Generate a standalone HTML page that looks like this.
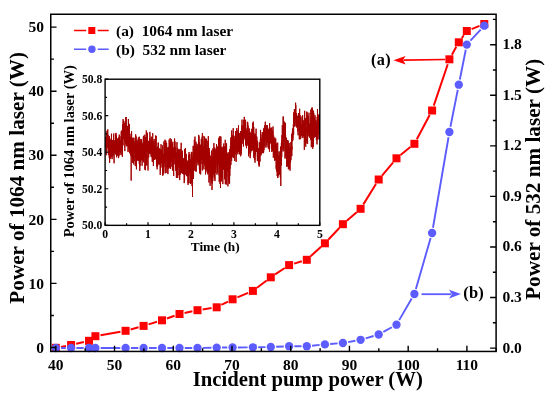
<!DOCTYPE html>
<html><head><meta charset="utf-8"><style>
html,body{margin:0;padding:0;background:#fff;width:550px;height:397px;overflow:hidden}
svg{display:block}
</style></head><body>
<svg width="550" height="397" viewBox="0 0 550 397">
<rect x="0" y="0" width="550" height="397" fill="#fff"/>
<polyline points="105.60,144.5 105.68,146.9 105.76,142.3 105.85,137.4 105.93,140.9 106.01,136.6 106.09,145.1 106.18,155.3 106.26,140.8 106.34,139.9 106.42,148.8 106.50,147.8 106.59,145.9 106.67,137.8 106.75,145.0 106.83,150.8 106.92,134.9 107.00,141.9 107.08,130.7 107.16,135.6 107.24,131.4 107.33,144.0 107.41,136.0 107.49,148.0 107.57,147.2 107.66,144.7 107.74,129.4 107.82,142.1 107.90,146.0 107.98,147.3 108.07,134.8 108.15,142.9 108.23,139.2 108.31,140.6 108.40,154.9 108.48,140.8 108.56,146.7 108.64,153.7 108.72,142.7 108.81,146.4 108.89,148.1 108.97,147.8 109.05,138.3 109.14,148.1 109.22,157.7 109.30,136.1 109.38,154.1 109.46,148.7 109.55,143.2 109.63,162.8 109.71,153.7 109.79,139.3 109.88,148.8 109.96,152.5 110.04,147.0 110.12,153.3 110.20,147.8 110.29,153.2 110.37,158.8 110.45,143.4 110.53,149.8 110.62,144.9 110.70,149.2 110.78,139.6 110.86,144.0 110.94,146.8 111.03,154.8 111.11,156.5 111.19,138.6 111.27,142.4 111.36,152.9 111.44,133.7 111.52,144.8 111.60,147.5 111.68,157.2 111.77,153.1 111.85,145.8 111.93,145.5 112.01,146.3 112.10,159.1 112.18,145.0 112.26,145.9 112.34,150.6 112.42,147.2 112.51,146.6 112.59,140.0 112.67,147.9 112.75,144.8 112.84,156.4 112.92,152.7 113.00,147.8 113.08,152.8 113.16,145.5 113.25,155.5 113.33,147.9 113.41,152.1 113.49,138.8 113.58,150.4 113.66,135.9 113.74,133.5 113.82,145.7 113.90,141.5 113.99,149.0 114.07,163.3 114.15,142.0 114.23,143.4 114.32,149.3 114.40,151.3 114.48,146.6 114.56,146.4 114.64,152.7 114.73,151.4 114.81,140.5 114.89,147.2 114.97,148.0 115.06,140.4 115.14,149.5 115.22,141.7 115.30,154.5 115.38,149.0 115.47,148.3 115.55,143.5 115.63,146.8 115.71,133.8 115.80,139.8 115.88,150.1 115.96,132.9 116.04,153.4 116.12,135.5 116.21,152.7 116.29,141.7 116.37,152.8 116.45,148.4 116.54,136.9 116.62,156.0 116.70,157.3 116.78,147.0 116.86,145.5 116.95,146.3 117.03,140.7 117.11,154.8 117.19,143.7 117.28,147.0 117.36,141.9 117.44,143.1 117.52,138.6 117.60,155.7 117.69,146.2 117.77,153.7 117.85,147.3 117.93,142.5 118.02,145.0 118.10,143.4 118.18,147.2 118.26,144.6 118.34,145.1 118.43,137.9 118.51,141.7 118.59,158.1 118.67,142.6 118.76,140.1 118.84,149.3 118.92,156.3 119.00,137.4 119.08,145.5 119.17,142.4 119.25,134.6 119.33,151.4 119.41,146.1 119.50,146.6 119.58,140.6 119.66,149.0 119.74,141.7 119.82,144.4 119.91,137.2 119.99,136.2 120.07,155.0 120.15,141.1 120.24,147.0 120.32,144.3 120.40,141.0 120.48,140.3 120.56,149.1 120.65,141.6 120.73,142.6 120.81,143.9 120.89,153.1 120.98,149.0 121.06,146.4 121.14,138.4 121.22,131.3 121.30,150.8 121.39,150.9 121.47,141.3 121.55,147.0 121.63,149.0 121.72,149.4 121.80,150.1 121.88,137.6 121.96,155.3 122.04,130.0 122.13,148.8 122.21,145.2 122.29,148.2 122.37,156.9 122.46,153.0 122.54,129.3 122.62,124.3 122.70,146.0 122.78,129.7 122.87,138.1 122.95,145.2 123.03,123.4 123.11,119.1 123.20,139.2 123.28,137.1 123.36,134.3 123.44,136.4 123.52,128.5 123.61,122.7 123.69,133.8 123.77,126.7 123.85,120.9 123.94,138.4 124.02,133.5 124.10,137.4 124.18,125.9 124.26,128.7 124.35,125.9 124.43,126.9 124.51,135.9 124.59,127.8 124.68,137.3 124.76,137.2 124.84,151.1 124.92,123.0 125.00,141.8 125.09,133.8 125.17,134.5 125.25,122.7 125.33,130.9 125.42,140.8 125.50,134.1 125.58,135.5 125.66,132.4 125.74,144.4 125.83,134.7 125.91,117.0 125.99,129.3 126.07,118.8 126.16,117.1 126.24,130.9 126.32,146.4 126.40,135.8 126.48,125.8 126.57,127.8 126.65,145.1 126.73,137.1 126.81,136.3 126.90,135.6 126.98,136.4 127.06,142.9 127.14,140.9 127.22,138.2 127.31,127.7 127.39,140.9 127.47,130.9 127.55,146.0 127.64,126.1 127.72,135.8 127.80,136.9 127.88,125.9 127.96,151.8 128.05,149.7 128.13,133.4 128.21,144.0 128.29,140.8 128.38,119.0 128.46,139.9 128.54,137.3 128.62,138.6 128.70,128.8 128.79,135.8 128.87,136.7 128.95,148.5 129.03,141.3 129.12,138.6 129.20,151.9 129.28,134.2 129.36,135.9 129.44,123.9 129.53,152.9 129.61,148.0 129.69,147.7 129.77,145.8 129.86,141.2 129.94,142.3 130.02,138.6 130.10,139.2 130.18,141.5 130.27,154.0 130.35,146.1 130.43,141.1 130.51,137.0 130.60,136.7 130.68,155.6 130.76,146.6 130.84,143.1 130.92,139.9 131.01,133.7 131.09,142.6 131.17,180.6 131.25,140.3 131.34,141.8 131.42,142.1 131.50,145.0 131.58,131.2 131.66,142.5 131.75,137.7 131.83,152.0 131.91,138.7 131.99,149.9 132.08,157.8 132.16,143.0 132.24,140.9 132.32,147.5 132.41,146.1 132.49,138.3 132.57,150.2 132.65,162.9 132.73,144.8 132.82,145.5 132.90,138.9 132.98,150.0 133.06,137.6 133.15,138.8 133.23,158.1 133.31,140.6 133.39,156.7 133.47,160.5 133.56,150.4 133.64,152.9 133.72,164.4 133.80,147.0 133.89,143.9 133.97,137.8 134.05,149.3 134.13,161.2 134.21,157.1 134.30,141.5 134.38,142.3 134.46,145.3 134.54,152.0 134.63,148.0 134.71,151.6 134.79,152.4 134.87,147.6 134.95,149.9 135.04,152.0 135.12,149.6 135.20,154.6 135.28,166.1 135.37,155.4 135.45,151.0 135.53,136.4 135.61,153.8 135.69,134.3 135.78,138.9 135.86,157.9 135.94,156.7 136.02,149.5 136.11,136.5 136.19,147.8 136.27,145.2 136.35,156.3 136.43,169.3 136.52,152.9 136.60,144.6 136.68,141.4 136.76,150.7 136.85,149.8 136.93,141.6 137.01,152.3 137.09,141.7 137.17,160.7 137.26,160.3 137.34,160.5 137.42,147.6 137.50,155.9 137.59,150.5 137.67,148.4 137.75,148.9 137.83,140.9 137.91,139.8 138.00,158.5 138.08,150.3 138.16,153.7 138.24,160.3 138.33,137.6 138.41,145.5 138.49,153.6 138.57,155.4 138.65,149.0 138.74,160.8 138.82,154.0 138.90,142.2 138.98,144.6 139.07,159.1 139.15,156.3 139.23,136.7 139.31,163.7 139.39,157.6 139.48,163.8 139.56,149.5 139.64,150.3 139.72,143.4 139.81,170.9 139.89,151.4 139.97,166.1 140.05,147.5 140.13,154.2 140.22,138.9 140.30,149.6 140.38,161.1 140.46,142.3 140.55,161.8 140.63,155.6 140.71,143.9 140.79,148.5 140.87,148.8 140.96,152.3 141.04,148.1 141.12,145.6 141.20,150.1 141.29,143.8 141.37,141.5 141.45,152.2 141.53,160.3 141.61,139.3 141.70,152.6 141.78,146.9 141.86,144.0 141.94,160.0 142.03,148.0 142.11,165.7 142.19,145.6 142.27,155.9 142.35,150.5 142.44,145.8 142.52,157.7 142.60,151.1 142.68,157.8 142.77,152.0 142.85,142.7 142.93,151.5 143.01,152.8 143.09,161.0 143.18,144.1 143.26,152.0 143.34,136.7 143.42,158.2 143.51,142.4 143.59,135.8 143.67,151.7 143.75,162.4 143.83,138.2 143.92,142.2 144.00,145.3 144.08,141.7 144.16,155.7 144.25,144.7 144.33,145.4 144.41,157.6 144.49,145.0 144.57,156.2 144.66,143.0 144.74,140.7 144.82,134.7 144.90,169.6 144.99,149.0 145.07,154.3 145.15,151.7 145.23,153.5 145.31,152.4 145.40,170.2 145.48,142.0 145.56,137.0 145.64,142.2 145.73,139.0 145.81,159.1 145.89,159.8 145.97,142.5 146.05,138.3 146.14,148.4 146.22,165.4 146.30,130.5 146.38,156.9 146.47,141.2 146.55,162.0 146.63,141.1 146.71,148.9 146.79,136.8 146.88,142.0 146.96,165.4 147.04,159.8 147.12,147.6 147.21,142.9 147.29,132.7 147.37,147.7 147.45,151.3 147.53,150.7 147.62,150.6 147.70,140.2 147.78,150.9 147.86,151.1 147.95,164.6 148.03,170.5 148.11,150.1 148.19,143.8 148.27,150.9 148.36,145.4 148.44,144.1 148.52,150.9 148.60,141.1 148.69,157.5 148.77,150.5 148.85,154.0 148.93,149.7 149.01,144.4 149.10,142.3 149.18,149.2 149.26,146.2 149.34,153.8 149.43,151.5 149.51,138.4 149.59,152.2 149.67,138.7 149.75,145.7 149.84,148.7 149.92,131.9 150.00,152.4 150.08,153.0 150.17,150.1 150.25,147.6 150.33,148.1 150.41,142.5 150.49,149.1 150.58,146.5 150.66,152.4 150.74,140.5 150.82,153.7 150.91,152.9 150.99,150.3 151.07,147.6 151.15,156.6 151.23,136.6 151.32,155.7 151.40,153.7 151.48,154.1 151.56,155.0 151.65,145.8 151.73,149.3 151.81,157.2 151.89,155.4 151.97,153.4 152.06,138.4 152.14,156.2 152.22,161.7 152.30,160.3 152.39,153.6 152.47,138.3 152.55,159.6 152.63,150.4 152.71,133.2 152.80,154.8 152.88,139.1 152.96,140.8 153.04,146.3 153.13,162.2 153.21,148.5 153.29,153.8 153.37,166.0 153.45,164.7 153.54,150.8 153.62,149.7 153.70,141.4 153.78,146.0 153.87,155.0 153.95,154.8 154.03,152.5 154.11,159.5 154.19,145.5 154.28,151.2 154.36,157.4 154.44,156.2 154.52,160.0 154.61,154.7 154.69,149.3 154.77,154.4 154.85,144.0 154.93,139.1 155.02,156.1 155.10,151.3 155.18,154.2 155.26,138.9 155.35,149.2 155.43,147.5 155.51,145.5 155.59,135.5 155.67,149.7 155.76,159.3 155.84,155.4 155.92,147.9 156.00,152.5 156.09,158.6 156.17,135.9 156.25,151.9 156.33,157.2 156.41,158.4 156.50,166.5 156.58,162.1 156.66,155.8 156.74,155.8 156.83,159.7 156.91,149.3 156.99,153.3 157.07,160.9 157.15,169.3 157.24,152.6 157.32,153.6 157.40,155.7 157.48,164.8 157.57,154.0 157.65,166.1 157.73,146.7 157.81,153.0 157.89,153.0 157.98,161.0 158.06,163.1 158.14,142.7 158.22,147.5 158.31,157.7 158.39,149.7 158.47,142.8 158.55,163.7 158.63,159.3 158.72,159.4 158.80,151.6 158.88,164.0 158.96,153.7 159.05,164.7 159.13,148.4 159.21,148.9 159.29,157.7 159.37,150.3 159.46,161.7 159.54,158.4 159.62,148.7 159.70,157.0 159.79,153.6 159.87,164.2 159.95,151.4 160.03,153.1 160.11,166.8 160.20,174.9 160.28,173.5 160.36,157.5 160.44,158.9 160.53,169.8 160.61,156.2 160.69,149.3 160.77,158.4 160.85,161.2 160.94,150.8 161.02,144.2 161.10,146.0 161.18,163.2 161.27,151.7 161.35,156.8 161.43,159.7 161.51,163.0 161.59,155.4 161.68,162.2 161.76,151.1 161.84,155.5 161.92,150.2 162.01,167.5 162.09,158.2 162.17,152.5 162.25,155.6 162.33,156.6 162.42,163.9 162.50,145.5 162.58,150.0 162.66,155.2 162.75,175.7 162.83,165.8 162.91,157.3 162.99,163.8 163.07,174.6 163.16,156.2 163.24,155.1 163.32,167.7 163.40,161.9 163.49,163.3 163.57,153.8 163.65,173.3 163.73,171.6 163.81,162.4 163.90,163.3 163.98,141.4 164.06,162.8 164.14,156.1 164.23,161.1 164.31,163.1 164.39,154.8 164.47,143.9 164.55,160.5 164.64,151.5 164.72,154.8 164.80,152.5 164.88,154.6 164.97,139.7 165.05,167.2 165.13,159.3 165.21,166.3 165.29,173.3 165.38,157.4 165.46,142.5 165.54,149.9 165.62,147.3 165.71,153.0 165.79,157.7 165.87,140.7 165.95,159.8 166.03,144.6 166.12,159.3 166.20,156.0 166.28,154.3 166.36,156.2 166.45,152.4 166.53,151.7 166.61,143.0 166.69,156.4 166.77,171.7 166.86,172.8 166.94,167.4 167.02,162.3 167.10,151.0 167.19,168.3 167.27,156.0 167.35,155.9 167.43,154.0 167.51,157.1 167.60,152.8 167.68,155.6 167.76,147.4 167.84,153.2 167.93,174.1 168.01,155.6 168.09,154.2 168.17,160.5 168.25,161.9 168.34,146.9 168.42,154.3 168.50,163.6 168.58,158.2 168.67,156.9 168.75,168.7 168.83,150.3 168.91,156.5 168.99,151.5 169.08,168.1 169.16,139.6 169.24,150.1 169.32,151.3 169.41,161.1 169.49,160.6 169.57,167.1 169.65,142.5 169.73,161.7 169.82,153.0 169.90,149.9 169.98,159.9 170.06,147.8 170.15,138.2 170.23,152.4 170.31,143.0 170.39,150.1 170.47,158.7 170.56,158.2 170.64,169.0 170.72,154.0 170.80,142.8 170.89,149.4 170.97,148.0 171.05,145.5 171.13,159.5 171.21,150.4 171.30,139.2 171.38,161.9 171.46,155.0 171.54,159.1 171.63,157.0 171.71,161.5 171.79,156.4 171.87,166.7 171.95,159.8 172.04,159.6 172.12,159.8 172.20,143.8 172.28,154.9 172.37,154.1 172.45,158.2 172.53,144.7 172.61,170.6 172.69,157.4 172.78,146.0 172.86,141.7 172.94,154.1 173.02,155.8 173.11,150.4 173.19,157.5 173.27,151.1 173.35,161.6 173.43,150.4 173.52,156.5 173.60,165.4 173.68,176.0 173.76,148.0 173.85,152.8 173.93,149.6 174.01,163.9 174.09,146.9 174.17,152.8 174.26,156.8 174.34,148.5 174.42,148.7 174.50,153.0 174.59,138.5 174.67,144.4 174.75,153.6 174.83,158.7 174.91,155.7 175.00,141.5 175.08,153.3 175.16,164.6 175.24,162.5 175.33,156.8 175.41,149.6 175.49,163.3 175.57,152.4 175.65,147.1 175.74,150.4 175.82,170.9 175.90,159.8 175.98,168.3 176.07,153.5 176.15,166.4 176.23,152.4 176.31,156.5 176.39,177.9 176.48,165.0 176.56,153.4 176.64,157.3 176.72,161.1 176.81,169.3 176.89,153.7 176.97,142.1 177.05,155.6 177.13,158.4 177.22,159.3 177.30,170.5 177.38,161.3 177.46,165.9 177.55,148.2 177.63,166.5 177.71,178.0 177.79,165.7 177.87,160.9 177.96,160.0 178.04,175.3 178.12,150.1 178.20,157.8 178.29,163.2 178.37,165.9 178.45,155.0 178.53,162.0 178.61,156.6 178.70,160.4 178.78,158.1 178.86,148.9 178.94,159.3 179.03,167.7 179.11,150.8 179.19,157.6 179.27,165.9 179.35,150.1 179.44,161.7 179.52,150.4 179.60,170.5 179.68,180.1 179.77,178.7 179.85,158.4 179.93,167.2 180.01,161.7 180.09,161.6 180.18,174.7 180.26,148.9 180.34,170.4 180.42,160.5 180.51,173.7 180.59,162.8 180.67,155.2 180.75,163.8 180.83,168.0 180.92,161.8 181.00,165.9 181.08,157.0 181.16,142.8 181.25,169.8 181.33,168.1 181.41,163.3 181.49,162.6 181.57,171.3 181.66,158.2 181.74,156.1 181.82,160.7 181.90,172.9 181.99,150.4 182.07,173.0 182.15,157.1 182.23,153.2 182.31,173.8 182.40,162.1 182.48,151.7 182.56,160.0 182.64,171.2 182.73,173.6 182.81,159.7 182.89,166.9 182.97,169.6 183.05,158.0 183.14,166.7 183.22,163.5 183.30,159.2 183.38,159.7 183.47,164.6 183.55,164.3 183.63,159.3 183.71,160.6 183.79,173.8 183.88,166.2 183.96,172.0 184.04,174.7 184.12,169.6 184.21,183.1 184.29,157.9 184.37,171.7 184.45,162.3 184.53,180.6 184.62,179.3 184.70,148.9 184.78,157.2 184.86,170.9 184.95,172.0 185.03,171.6 185.11,165.0 185.19,169.5 185.27,171.2 185.36,165.2 185.44,174.4 185.52,148.0 185.60,171.3 185.69,157.6 185.77,174.2 185.85,164.5 185.93,159.1 186.02,169.6 186.10,159.1 186.18,159.2 186.26,153.9 186.34,166.6 186.43,171.0 186.51,175.4 186.59,165.9 186.67,175.8 186.76,167.4 186.84,166.6 186.92,172.1 187.00,176.2 187.08,164.8 187.17,165.7 187.25,166.4 187.33,168.5 187.41,160.6 187.50,176.4 187.58,164.8 187.66,171.9 187.74,161.5 187.82,171.2 187.91,171.6 187.99,165.1 188.07,184.9 188.15,171.7 188.24,183.1 188.32,176.6 188.40,163.5 188.48,165.9 188.56,172.6 188.65,169.6 188.73,169.6 188.81,167.0 188.89,154.8 188.98,167.7 189.06,152.0 189.14,172.6 189.22,163.9 189.30,164.1 189.39,168.1 189.47,172.2 189.55,158.6 189.63,156.1 189.72,161.7 189.80,154.0 189.88,162.7 189.96,183.2 190.04,162.0 190.13,175.5 190.21,159.2 190.29,172.5 190.37,167.4 190.46,169.3 190.54,174.3 190.62,183.9 190.70,171.0 190.78,170.3 190.87,161.2 190.95,173.9 191.03,166.9 191.11,175.7 191.20,168.3 191.28,183.1 191.36,151.9 191.44,165.9 191.52,175.6 191.61,165.1 191.69,161.3 191.77,165.6 191.85,156.0 191.94,168.6 192.02,186.1 192.10,177.1 192.18,157.7 192.26,159.6 192.35,163.5 192.43,175.5 192.51,197.0 192.59,160.6 192.68,174.2 192.76,173.9 192.84,163.0 192.92,156.3 193.00,152.3 193.09,159.3 193.17,145.9 193.25,171.0 193.33,158.5 193.42,167.6 193.50,178.9 193.58,172.4 193.66,152.0 193.74,168.7 193.83,170.6 193.91,154.0 193.99,151.8 194.07,158.4 194.16,145.5 194.24,170.5 194.32,139.7 194.40,148.1 194.48,154.5 194.57,154.4 194.65,157.0 194.73,157.4 194.81,152.9 194.90,163.3 194.98,136.6 195.06,153.5 195.14,147.8 195.22,154.6 195.31,155.3 195.39,146.2 195.47,148.4 195.55,160.0 195.64,156.4 195.72,148.1 195.80,170.2 195.88,171.4 195.96,141.7 196.05,156.1 196.13,171.5 196.21,160.1 196.29,155.5 196.38,152.0 196.46,149.2 196.54,151.9 196.62,149.1 196.70,159.9 196.79,150.4 196.87,150.1 196.95,143.7 197.03,153.3 197.12,146.3 197.20,152.3 197.28,162.6 197.36,156.9 197.44,158.1 197.53,156.9 197.61,154.3 197.69,152.8 197.77,151.2 197.86,160.4 197.94,144.6 198.02,165.4 198.10,154.2 198.18,147.5 198.27,149.7 198.35,148.1 198.43,155.3 198.51,147.7 198.60,163.9 198.68,147.2 198.76,134.9 198.84,147.6 198.92,136.4 199.01,153.7 199.09,163.4 199.17,159.8 199.25,142.2 199.34,147.3 199.42,169.9 199.50,156.9 199.58,154.1 199.66,163.5 199.75,173.6 199.83,165.7 199.91,155.4 199.99,157.3 200.08,159.7 200.16,148.6 200.24,144.6 200.32,154.7 200.40,145.6 200.49,153.7 200.57,155.1 200.65,174.4 200.73,146.4 200.82,153.2 200.90,152.8 200.98,158.4 201.06,164.2 201.14,149.8 201.23,146.6 201.31,138.9 201.39,145.6 201.47,159.5 201.56,154.9 201.64,144.7 201.72,150.9 201.80,154.8 201.88,159.4 201.97,148.8 202.05,152.1 202.13,136.8 202.21,143.3 202.30,170.5 202.38,133.1 202.46,151.3 202.54,156.8 202.62,150.9 202.71,146.6 202.79,154.1 202.87,154.7 202.95,153.9 203.04,135.8 203.12,153.3 203.20,146.1 203.28,149.2 203.36,157.1 203.45,161.4 203.53,164.0 203.61,149.7 203.69,164.4 203.78,167.0 203.86,166.7 203.94,169.4 204.02,153.4 204.10,153.1 204.19,163.6 204.27,140.6 204.35,157.2 204.43,149.4 204.52,151.1 204.60,136.5 204.68,145.5 204.76,154.8 204.84,164.6 204.93,165.8 205.01,154.2 205.09,153.1 205.17,146.1 205.26,159.5 205.34,152.5 205.42,161.8 205.50,174.4 205.58,154.9 205.67,138.7 205.75,145.7 205.83,139.1 205.91,142.0 206.00,169.9 206.08,158.0 206.16,138.7 206.24,163.0 206.32,169.9 206.41,152.1 206.49,148.7 206.57,152.6 206.65,159.7 206.74,163.7 206.82,169.9 206.90,170.3 206.98,170.2 207.06,172.3 207.15,164.7 207.23,140.8 207.31,156.3 207.39,161.3 207.48,153.9 207.56,168.1 207.64,154.4 207.72,148.4 207.80,174.4 207.89,166.1 207.97,161.4 208.05,169.2 208.13,170.8 208.22,163.1 208.30,136.1 208.38,152.5 208.46,155.0 208.54,149.5 208.63,162.3 208.71,173.1 208.79,155.3 208.87,148.5 208.96,182.5 209.04,156.2 209.12,148.0 209.20,163.8 209.28,166.0 209.37,154.1 209.45,170.1 209.53,156.7 209.61,152.3 209.70,164.1 209.78,170.5 209.86,155.8 209.94,166.1 210.02,161.8 210.11,185.8 210.19,155.7 210.27,177.8 210.35,162.9 210.44,162.3 210.52,171.3 210.60,173.2 210.68,177.2 210.76,167.6 210.85,158.1 210.93,158.9 211.01,169.9 211.09,170.8 211.18,179.4 211.26,169.4 211.34,176.2 211.42,181.0 211.50,167.3 211.59,150.5 211.67,153.8 211.75,151.3 211.83,182.4 211.92,157.7 212.00,190.0 212.08,172.3 212.16,183.6 212.24,176.2 212.33,165.0 212.41,163.8 212.49,166.6 212.57,167.3 212.66,160.2 212.74,165.0 212.82,181.0 212.90,148.4 212.98,167.4 213.07,156.0 213.15,166.5 213.23,172.6 213.31,163.8 213.40,171.7 213.48,149.0 213.56,174.5 213.64,158.2 213.72,169.6 213.81,165.3 213.89,143.1 213.97,156.3 214.05,165.3 214.14,177.4 214.22,165.6 214.30,165.2 214.38,149.8 214.46,175.6 214.55,178.8 214.63,162.6 214.71,160.2 214.79,147.5 214.88,169.8 214.96,181.1 215.04,168.0 215.12,172.6 215.20,166.1 215.29,152.6 215.37,172.7 215.45,150.3 215.53,159.0 215.62,163.1 215.70,168.1 215.78,164.0 215.86,163.6 215.94,153.8 216.03,149.2 216.11,160.4 216.19,153.9 216.27,148.8 216.36,149.1 216.44,155.4 216.52,144.1 216.60,148.2 216.68,145.7 216.77,160.3 216.85,162.0 216.93,174.7 217.01,146.5 217.10,153.1 217.18,166.0 217.26,156.8 217.34,156.0 217.42,173.1 217.51,155.9 217.59,148.9 217.67,147.4 217.75,161.8 217.84,161.6 217.92,146.8 218.00,150.1 218.08,163.9 218.16,164.4 218.25,153.2 218.33,165.0 218.41,164.6 218.49,142.3 218.58,156.3 218.66,163.3 218.74,153.8 218.82,138.4 218.90,156.7 218.99,167.0 219.07,175.4 219.15,137.4 219.23,181.9 219.32,148.0 219.40,169.6 219.48,172.7 219.56,170.2 219.64,161.4 219.73,147.4 219.81,166.7 219.89,152.2 219.97,136.0 220.06,184.0 220.14,167.8 220.22,180.0 220.30,150.1 220.38,176.2 220.47,188.0 220.55,177.2 220.63,160.0 220.71,147.2 220.80,158.4 220.88,136.6 220.96,141.9 221.04,161.4 221.12,149.7 221.21,158.7 221.29,159.3 221.37,181.4 221.45,174.5 221.54,160.1 221.62,173.6 221.70,152.3 221.78,157.1 221.86,170.5 221.95,147.5 222.03,157.8 222.11,146.7 222.19,162.1 222.28,178.3 222.36,152.9 222.44,163.3 222.52,151.4 222.60,148.8 222.69,148.0 222.77,176.4 222.85,184.1 222.93,166.2 223.02,153.6 223.10,168.6 223.18,157.7 223.26,169.7 223.34,164.3 223.43,164.2 223.51,167.7 223.59,155.3 223.67,157.2 223.76,143.5 223.84,156.9 223.92,146.7 224.00,160.0 224.08,151.6 224.17,162.6 224.25,166.3 224.33,147.0 224.41,153.3 224.50,152.0 224.58,169.4 224.66,179.3 224.74,170.6 224.82,158.3 224.91,176.9 224.99,146.4 225.07,177.3 225.15,155.3 225.24,139.8 225.32,184.2 225.40,178.1 225.48,151.6 225.56,163.8 225.65,160.0 225.73,163.2 225.81,147.3 225.89,155.4 225.98,167.0 226.06,164.6 226.14,174.5 226.22,163.3 226.30,184.6 226.39,155.4 226.47,165.3 226.55,143.3 226.63,150.1 226.72,176.4 226.80,153.4 226.88,168.4 226.96,162.5 227.04,152.5 227.13,159.7 227.21,158.0 227.29,158.4 227.37,171.1 227.46,170.2 227.54,157.6 227.62,154.3 227.70,166.6 227.78,162.7 227.87,174.4 227.95,186.4 228.03,172.6 228.11,163.7 228.20,162.3 228.28,155.3 228.36,154.9 228.44,153.9 228.52,160.3 228.61,160.0 228.69,172.2 228.77,160.4 228.85,162.6 228.94,152.0 229.02,181.9 229.10,170.1 229.18,183.6 229.26,173.3 229.35,180.0 229.43,161.1 229.51,170.1 229.59,183.8 229.68,149.1 229.76,171.8 229.84,175.8 229.92,162.6 230.00,165.0 230.09,168.8 230.17,150.0 230.25,159.0 230.33,146.5 230.42,147.5 230.50,147.3 230.58,150.6 230.66,152.3 230.74,154.0 230.83,137.5 230.91,164.8 230.99,157.0 231.07,152.6 231.16,143.2 231.24,144.4 231.32,148.7 231.40,147.7 231.48,131.7 231.57,150.3 231.65,161.0 231.73,130.4 231.81,152.4 231.90,147.6 231.98,143.9 232.06,155.4 232.14,135.6 232.22,146.1 232.31,156.3 232.39,143.4 232.47,141.6 232.55,145.9 232.64,141.5 232.72,157.3 232.80,137.9 232.88,152.0 232.96,135.1 233.05,150.5 233.13,144.3 233.21,128.2 233.29,145.2 233.38,136.7 233.46,141.7 233.54,157.8 233.62,136.3 233.70,136.8 233.79,157.2 233.87,146.4 233.95,158.1 234.03,148.1 234.12,138.2 234.20,144.9 234.28,155.4 234.36,153.0 234.44,145.3 234.53,145.6 234.61,144.3 234.69,140.4 234.77,161.0 234.86,145.1 234.94,135.8 235.02,141.1 235.10,150.9 235.18,150.2 235.27,143.7 235.35,139.3 235.43,145.0 235.51,131.0 235.60,134.0 235.68,151.2 235.76,140.7 235.84,147.7 235.92,154.5 236.01,149.8 236.09,144.6 236.17,161.8 236.25,149.8 236.34,141.4 236.42,150.3 236.50,147.6 236.58,137.2 236.66,144.8 236.75,142.8 236.83,128.0 236.91,142.6 236.99,141.7 237.08,140.4 237.16,130.4 237.24,141.0 237.32,143.5 237.40,144.6 237.49,134.4 237.57,148.9 237.65,133.7 237.73,141.8 237.82,154.3 237.90,137.9 237.98,139.3 238.06,152.2 238.14,140.1 238.23,140.7 238.31,144.8 238.39,151.4 238.47,125.3 238.56,135.8 238.64,134.2 238.72,133.4 238.80,135.1 238.88,135.1 238.97,144.3 239.05,134.5 239.13,142.6 239.21,144.7 239.30,135.4 239.38,142.2 239.46,154.4 239.54,143.5 239.63,135.6 239.71,140.1 239.79,133.0 239.87,142.6 239.95,147.2 240.04,133.4 240.12,138.2 240.20,148.9 240.28,135.6 240.37,141.1 240.45,131.0 240.53,132.6 240.61,134.9 240.69,156.3 240.78,135.6 240.86,134.5 240.94,134.1 241.02,137.1 241.11,143.5 241.19,139.6 241.27,154.4 241.35,139.6 241.43,149.3 241.52,139.8 241.60,142.3 241.68,125.8 241.76,136.2 241.85,136.5 241.93,135.0 242.01,119.6 242.09,143.6 242.17,133.4 242.26,132.8 242.34,134.2 242.42,134.2 242.50,139.2 242.59,125.6 242.67,128.2 242.75,137.8 242.83,136.5 242.91,132.2 243.00,130.5 243.08,128.3 243.16,134.3 243.24,144.1 243.33,126.1 243.41,146.5 243.49,141.0 243.57,130.5 243.65,140.2 243.74,122.2 243.82,119.9 243.90,123.3 243.98,130.2 244.07,130.9 244.15,129.5 244.23,134.5 244.31,116.9 244.39,137.9 244.48,117.0 244.56,129.0 244.64,131.1 244.72,125.3 244.81,123.8 244.89,126.8 244.97,134.7 245.05,139.6 245.13,139.5 245.22,127.4 245.30,129.1 245.38,128.2 245.46,139.1 245.55,119.8 245.63,145.4 245.71,132.1 245.79,129.9 245.87,138.8 245.96,144.3 246.04,139.0 246.12,144.6 246.20,137.7 246.29,146.2 246.37,146.5 246.45,136.2 246.53,148.2 246.61,138.5 246.70,138.0 246.78,130.4 246.86,135.4 246.94,143.6 247.03,127.8 247.11,142.9 247.19,140.7 247.27,140.3 247.35,121.8 247.44,137.7 247.52,143.5 247.60,132.9 247.68,139.5 247.77,122.5 247.85,144.1 247.93,134.2 248.01,145.8 248.09,125.6 248.18,144.7 248.26,137.9 248.34,145.8 248.42,133.0 248.51,135.4 248.59,156.3 248.67,134.1 248.75,135.1 248.83,138.4 248.92,133.1 249.00,149.5 249.08,153.6 249.16,135.8 249.25,128.4 249.33,149.8 249.41,149.5 249.49,147.5 249.57,150.0 249.66,135.4 249.74,140.6 249.82,131.9 249.90,131.7 249.99,149.3 250.07,137.3 250.15,158.2 250.23,142.7 250.31,137.4 250.40,148.0 250.48,155.6 250.56,145.7 250.64,132.8 250.73,144.8 250.81,152.5 250.89,138.1 250.97,135.9 251.05,149.8 251.14,143.0 251.22,133.1 251.30,138.8 251.38,135.8 251.47,144.1 251.55,142.6 251.63,151.0 251.71,147.5 251.79,128.8 251.88,145.0 251.96,149.0 252.04,145.4 252.12,150.2 252.21,136.9 252.29,133.5 252.37,149.4 252.45,132.4 252.53,122.9 252.62,150.3 252.70,135.1 252.78,138.7 252.86,129.1 252.95,129.7 253.03,131.1 253.11,138.1 253.19,144.5 253.27,121.6 253.36,148.0 253.44,130.5 253.52,131.4 253.60,147.3 253.69,140.4 253.77,126.9 253.85,158.1 253.93,133.0 254.01,143.3 254.10,143.1 254.18,154.5 254.26,137.4 254.34,151.1 254.43,135.2 254.51,152.4 254.59,135.5 254.67,139.3 254.75,159.8 254.84,145.8 254.92,144.1 255.00,162.7 255.08,146.7 255.17,136.6 255.25,150.4 255.33,133.8 255.41,154.1 255.49,154.9 255.58,139.8 255.66,139.5 255.74,146.6 255.82,145.4 255.91,137.2 255.99,150.5 256.07,128.7 256.15,142.4 256.23,142.9 256.32,144.2 256.40,149.2 256.48,136.8 256.56,151.8 256.65,145.8 256.73,142.2 256.81,136.6 256.89,138.3 256.97,150.9 257.06,140.5 257.14,148.9 257.22,156.9 257.30,156.8 257.39,161.1 257.47,146.9 257.55,141.0 257.63,157.3 257.71,152.1 257.80,158.4 257.88,150.2 257.96,159.3 258.04,156.8 258.13,156.0 258.21,154.6 258.29,154.0 258.37,153.0 258.45,153.1 258.54,158.8 258.62,148.2 258.70,164.5 258.78,151.5 258.87,159.4 258.95,152.0 259.03,150.9 259.11,166.6 259.19,149.7 259.28,142.5 259.36,146.2 259.44,148.6 259.52,165.9 259.61,151.7 259.69,156.6 259.77,142.3 259.85,151.7 259.93,153.7 260.02,161.5 260.10,143.1 260.18,152.2 260.26,149.6 260.35,139.6 260.43,146.6 260.51,144.4 260.59,129.9 260.67,150.1 260.76,149.4 260.84,141.7 260.92,134.7 261.00,155.4 261.09,146.0 261.17,151.3 261.25,153.9 261.33,139.0 261.41,148.7 261.50,140.4 261.58,141.4 261.66,140.9 261.74,141.2 261.83,149.4 261.91,141.5 261.99,139.0 262.07,137.7 262.15,142.1 262.24,132.1 262.32,134.8 262.40,138.0 262.48,133.6 262.57,136.8 262.65,132.6 262.73,152.9 262.81,147.2 262.89,139.9 262.98,135.6 263.06,153.3 263.14,138.5 263.22,135.2 263.31,138.3 263.39,138.4 263.47,147.1 263.55,135.8 263.63,152.4 263.72,129.1 263.80,141.4 263.88,128.2 263.96,150.1 264.05,133.5 264.13,135.6 264.21,143.2 264.29,145.7 264.37,127.5 264.46,133.4 264.54,125.4 264.62,137.1 264.70,135.3 264.79,133.5 264.87,130.9 264.95,133.2 265.03,130.5 265.11,140.1 265.20,147.5 265.28,121.7 265.36,135.3 265.44,133.1 265.53,139.9 265.61,129.2 265.69,135.1 265.77,128.6 265.85,141.4 265.94,137.0 266.02,135.1 266.10,139.0 266.18,134.5 266.27,125.0 266.35,140.6 266.43,138.4 266.51,135.2 266.59,143.4 266.68,145.1 266.76,128.5 266.84,130.8 266.92,147.4 267.01,146.4 267.09,131.2 267.17,128.1 267.25,131.9 267.33,132.9 267.42,125.3 267.50,136.7 267.58,127.5 267.66,128.0 267.75,142.8 267.83,131.8 267.91,136.0 267.99,140.8 268.07,142.1 268.16,134.2 268.24,136.9 268.32,131.0 268.40,148.6 268.49,141.1 268.57,129.2 268.65,136.8 268.73,141.6 268.81,140.0 268.90,149.2 268.98,146.1 269.06,133.3 269.14,136.3 269.23,128.4 269.31,138.7 269.39,138.0 269.47,151.6 269.55,137.7 269.64,123.2 269.72,132.7 269.80,137.9 269.88,128.9 269.97,131.5 270.05,134.9 270.13,139.7 270.21,136.5 270.29,131.8 270.38,143.1 270.46,134.4 270.54,134.8 270.62,129.0 270.71,133.1 270.79,142.9 270.87,127.7 270.95,138.3 271.03,143.7 271.12,136.5 271.20,140.8 271.28,131.7 271.36,148.3 271.45,147.0 271.53,141.3 271.61,127.7 271.69,132.7 271.77,146.8 271.86,152.0 271.94,142.4 272.02,149.1 272.10,136.3 272.19,139.4 272.27,140.8 272.35,143.9 272.43,130.4 272.51,147.8 272.60,150.6 272.68,133.4 272.76,132.0 272.84,144.2 272.93,137.2 273.01,126.5 273.09,147.9 273.17,143.4 273.25,139.0 273.34,157.7 273.42,143.6 273.50,137.3 273.58,143.6 273.67,135.5 273.75,137.6 273.83,146.1 273.91,139.4 273.99,140.3 274.08,156.1 274.16,150.6 274.24,150.7 274.32,149.1 274.41,149.2 274.49,156.8 274.57,146.2 274.65,160.7 274.73,140.1 274.82,145.7 274.90,137.6 274.98,145.8 275.06,152.8 275.15,160.3 275.23,144.6 275.31,150.1 275.39,147.7 275.47,145.2 275.56,142.1 275.64,152.2 275.72,138.6 275.80,153.4 275.89,153.1 275.97,148.2 276.05,145.8 276.13,143.2 276.21,169.4 276.30,144.3 276.38,167.8 276.46,160.6 276.54,153.3 276.63,147.3 276.71,165.5 276.79,171.5 276.87,150.3 276.95,155.8 277.04,167.3 277.12,161.9 277.20,176.0 277.28,155.2 277.37,164.6 277.45,149.9 277.53,178.0 277.61,154.6 277.69,142.6 277.78,160.0 277.86,160.0 277.94,177.6 278.02,158.7 278.11,161.7 278.19,167.0 278.27,175.7 278.35,161.8 278.43,171.5 278.52,167.2 278.60,160.3 278.68,163.7 278.76,163.5 278.85,155.3 278.93,174.3 279.01,151.5 279.09,174.3 279.17,172.6 279.26,163.5 279.34,157.6 279.42,162.6 279.50,169.1 279.59,171.7 279.67,167.8 279.75,174.4 279.83,160.5 279.91,167.9 280.00,151.5 280.08,173.1 280.16,167.7 280.24,162.6 280.33,177.4 280.41,173.2 280.49,146.6 280.57,166.2 280.65,150.8 280.74,173.0 280.82,186.0 280.90,155.5 280.98,159.6 281.07,155.2 281.15,159.4 281.23,160.7 281.31,165.3 281.39,142.9 281.48,165.1 281.56,140.7 281.64,150.4 281.72,157.1 281.81,151.7 281.89,135.2 281.97,136.0 282.05,136.8 282.13,139.2 282.22,148.7 282.30,125.1 282.38,139.7 282.46,139.6 282.55,138.7 282.63,138.0 282.71,147.9 282.79,138.6 282.87,142.2 282.96,139.6 283.04,151.5 283.12,116.5 283.20,147.1 283.29,132.4 283.37,132.3 283.45,125.7 283.53,116.9 283.61,131.7 283.70,128.8 283.78,140.8 283.86,121.0 283.94,150.7 284.03,139.0 284.11,133.8 284.19,129.2 284.27,128.5 284.35,125.0 284.44,131.2 284.52,137.2 284.60,135.4 284.68,122.2 284.77,134.7 284.85,128.0 284.93,139.6 285.01,158.6 285.09,145.4 285.18,136.0 285.26,122.9 285.34,125.9 285.42,124.0 285.51,148.9 285.59,134.8 285.67,143.5 285.75,137.6 285.83,144.9 285.92,157.4 286.00,139.1 286.08,142.9 286.16,139.5 286.25,154.4 286.33,139.2 286.41,139.1 286.49,137.8 286.57,138.5 286.66,153.6 286.74,166.8 286.82,144.0 286.90,158.5 286.99,154.1 287.07,145.0 287.15,150.8 287.23,151.3 287.31,148.2 287.40,166.3 287.48,140.2 287.56,155.9 287.64,155.7 287.73,149.6 287.81,154.7 287.89,159.8 287.97,155.0 288.05,156.9 288.14,158.9 288.22,140.6 288.30,164.4 288.38,169.3 288.47,161.3 288.55,161.6 288.63,145.5 288.71,154.3 288.79,149.7 288.88,151.4 288.96,161.9 289.04,150.2 289.12,154.8 289.21,143.1 289.29,154.9 289.37,156.7 289.45,151.5 289.53,151.5 289.62,168.9 289.70,148.5 289.78,149.7 289.86,151.4 289.95,164.8 290.03,170.7 290.11,158.3 290.19,150.7 290.27,152.0 290.36,161.3 290.44,147.5 290.52,162.6 290.60,161.7 290.69,152.1 290.77,155.3 290.85,155.4 290.93,160.1 291.01,142.0 291.10,156.4 291.18,145.3 291.26,142.0 291.34,147.2 291.43,144.4 291.51,138.6 291.59,133.8 291.67,137.6 291.75,153.2 291.84,156.0 291.92,146.5 292.00,149.5 292.08,137.2 292.17,139.6 292.25,141.4 292.33,131.4 292.41,131.4 292.49,138.2 292.58,134.5 292.66,128.5 292.74,137.6 292.82,132.3 292.91,140.4 292.99,132.3 293.07,129.4 293.15,131.5 293.24,128.6 293.32,124.2 293.40,125.2 293.48,132.5 293.56,131.0 293.65,134.7 293.73,112.4 293.81,120.9 293.89,119.9 293.98,123.3 294.06,117.8 294.14,116.5 294.22,125.2 294.30,119.9 294.39,109.1 294.47,126.7 294.55,124.0 294.63,112.5 294.72,122.9 294.80,111.5 294.88,125.3 294.96,115.6 295.04,111.5 295.13,114.7 295.21,112.0 295.29,119.0 295.37,119.0 295.46,118.1 295.54,114.0 295.62,102.7 295.70,118.9 295.78,105.1 295.87,120.1 295.95,126.4 296.03,120.6 296.11,116.1 296.20,117.7 296.28,118.1 296.36,115.4 296.44,115.3 296.52,113.2 296.61,127.5 296.69,119.5 296.77,126.1 296.85,118.2 296.94,120.5 297.02,119.0 297.10,123.2 297.18,125.7 297.26,122.0 297.35,116.2 297.43,115.7 297.51,131.4 297.59,119.1 297.68,119.2 297.76,130.4 297.84,128.1 297.92,124.7 298.00,119.0 298.09,135.3 298.17,124.3 298.25,125.5 298.33,121.0 298.42,113.1 298.50,113.7 298.58,125.3 298.66,125.4 298.74,121.3 298.83,115.2 298.91,113.4 298.99,121.1 299.07,113.5 299.16,129.9 299.24,131.9 299.32,139.4 299.40,130.4 299.48,120.1 299.57,118.2 299.65,108.8 299.73,120.4 299.81,123.6 299.90,132.3 299.98,129.8 300.06,129.8 300.14,127.2 300.22,130.8 300.31,137.0 300.39,117.8 300.47,122.6 300.55,115.5 300.64,139.2 300.72,136.9 300.80,132.8 300.88,117.4 300.96,128.5 301.05,125.4 301.13,128.1 301.21,126.1 301.29,132.1 301.38,124.6 301.46,135.2 301.54,130.3 301.62,125.9 301.70,127.6 301.79,124.9 301.87,135.9 301.95,126.6 302.03,131.7 302.12,125.9 302.20,116.3 302.28,137.7 302.36,120.3 302.44,136.1 302.53,133.9 302.61,115.2 302.69,121.8 302.77,125.8 302.86,123.1 302.94,119.9 303.02,137.9 303.10,128.7 303.18,134.5 303.27,126.9 303.35,133.7 303.43,123.9 303.51,130.5 303.60,136.0 303.68,131.1 303.76,126.4 303.84,120.7 303.92,132.1 304.01,133.6 304.09,128.1 304.17,123.5 304.25,135.3 304.34,149.9 304.42,127.6 304.50,133.3 304.58,133.6 304.66,110.8 304.75,131.2 304.83,123.8 304.91,142.3 304.99,127.8 305.08,123.1 305.16,128.0 305.24,131.3 305.32,125.0 305.40,129.3 305.49,118.0 305.57,127.8 305.65,136.4 305.73,146.6 305.82,135.7 305.90,131.9 305.98,139.6 306.06,138.1 306.14,143.5 306.23,138.5 306.31,128.4 306.39,131.5 306.47,130.8 306.56,131.8 306.64,130.9 306.72,122.6 306.80,111.6 306.88,123.5 306.97,112.3 307.05,129.5 307.13,129.0 307.21,115.2 307.30,134.5 307.38,135.9 307.46,129.5 307.54,142.2 307.62,143.8 307.71,118.9 307.79,136.9 307.87,132.1 307.95,131.9 308.04,136.0 308.12,122.7 308.20,123.7 308.28,121.8 308.36,122.3 308.45,127.6 308.53,116.6 308.61,119.9 308.69,133.1 308.78,127.8 308.86,131.5 308.94,112.7 309.02,121.8 309.10,123.7 309.19,128.6 309.27,123.4 309.35,136.2 309.43,127.8 309.52,128.4 309.60,128.4 309.68,134.3 309.76,124.2 309.84,137.9 309.93,132.2 310.01,129.6 310.09,128.6 310.17,132.7 310.26,137.1 310.34,136.5 310.42,131.5 310.50,135.9 310.58,129.2 310.67,139.3 310.75,127.9 310.83,109.6 310.91,140.1 311.00,129.1 311.08,117.5 311.16,126.3 311.24,120.0 311.32,147.2 311.41,132.6 311.49,113.6 311.57,133.0 311.65,124.3 311.74,145.7 311.82,118.2 311.90,107.7 311.98,128.6 312.06,124.7 312.15,124.0 312.23,107.7 312.31,131.9 312.39,143.7 312.48,109.7 312.56,139.0 312.64,122.4 312.72,148.8 312.80,132.0 312.89,126.0 312.97,138.5 313.05,132.9 313.13,122.1 313.22,134.6 313.30,122.8 313.38,110.6 313.46,147.0 313.54,124.3 313.63,121.9 313.71,130.8 313.79,112.9 313.87,114.9 313.96,122.9 314.04,122.7 314.12,128.1 314.20,137.8 314.28,123.1 314.37,131.9 314.45,132.9 314.53,117.5 314.61,129.4 314.70,118.8 314.78,136.9 314.86,131.3 314.94,127.4 315.02,115.2 315.11,128.2 315.19,120.4 315.27,133.3 315.35,126.0 315.44,120.0 315.52,135.1 315.60,133.3 315.68,121.9 315.76,137.0 315.85,124.4 315.93,124.3 316.01,128.0 316.09,120.5 316.18,123.1 316.26,125.5 316.34,139.7 316.42,139.4 316.50,124.6 316.59,140.1 316.67,126.3 316.75,129.8 316.83,133.9 316.92,129.0 317.00,144.4 317.08,128.6 317.16,116.8 317.24,137.1 317.33,123.2 317.41,124.0 317.49,109.0 317.57,134.4 317.66,132.9 317.74,132.7 317.82,134.0 317.90,139.6 317.98,125.9 318.07,133.6 318.15,120.5 318.23,123.5 318.31,134.3 318.40,129.2 318.48,116.0 318.56,128.9 318.64,124.7 318.72,119.9 318.81,129.3 318.89,123.0 318.97,114.3 319.05,117.8 319.14,139.0 319.22,114.8 319.30,127.5" fill="none" stroke="#a40000" stroke-width="1" stroke-linejoin="miter"/>
<rect x="105.1" y="79.2" width="214.70" height="146.15" fill="none" stroke="#000" stroke-width="1.4"/>
<path d="M105.10 225.35v-3.2 M126.57 225.35v-2 M148.04 225.35v-3.2 M169.51 225.35v-2 M190.98 225.35v-3.2 M212.45 225.35v-2 M233.92 225.35v-3.2 M255.39 225.35v-2 M276.86 225.35v-3.2 M298.33 225.35v-2 M319.80 225.35v-3.2 M105.1 225.35h3.2 M105.1 207.06h2 M105.1 188.77h3.2 M105.1 170.48h2 M105.1 152.19h3.2 M105.1 133.90h2 M105.1 115.61h3.2 M105.1 97.32h2 M105.1 79.03h3.2" stroke="#000" stroke-width="1.2" fill="none"/>
<text x="102.3" y="229.45" font-family="Liberation Serif, Times New Roman, serif" font-weight="bold" font-size="11.6" text-anchor="end">50.0</text>
<text x="102.3" y="192.87" font-family="Liberation Serif, Times New Roman, serif" font-weight="bold" font-size="11.6" text-anchor="end">50.2</text>
<text x="102.3" y="156.29" font-family="Liberation Serif, Times New Roman, serif" font-weight="bold" font-size="11.6" text-anchor="end">50.4</text>
<text x="102.3" y="119.71" font-family="Liberation Serif, Times New Roman, serif" font-weight="bold" font-size="11.6" text-anchor="end">50.6</text>
<text x="102.3" y="83.13" font-family="Liberation Serif, Times New Roman, serif" font-weight="bold" font-size="11.6" text-anchor="end">50.8</text>
<text x="105.10" y="237.9" font-family="Liberation Serif, Times New Roman, serif" font-weight="bold" font-size="11.7" text-anchor="middle">0</text>
<text x="148.04" y="237.9" font-family="Liberation Serif, Times New Roman, serif" font-weight="bold" font-size="11.7" text-anchor="middle">1</text>
<text x="190.98" y="237.9" font-family="Liberation Serif, Times New Roman, serif" font-weight="bold" font-size="11.7" text-anchor="middle">2</text>
<text x="233.92" y="237.9" font-family="Liberation Serif, Times New Roman, serif" font-weight="bold" font-size="11.7" text-anchor="middle">3</text>
<text x="276.86" y="237.9" font-family="Liberation Serif, Times New Roman, serif" font-weight="bold" font-size="11.7" text-anchor="middle">4</text>
<text x="319.80" y="237.9" font-family="Liberation Serif, Times New Roman, serif" font-weight="bold" font-size="11.7" text-anchor="middle">5</text>
<text x="215.2" y="250.8" font-family="Liberation Serif, Times New Roman, serif" font-weight="bold" font-size="13.3" text-anchor="middle">Time (h)</text>
<text transform="translate(74.1 151.2) rotate(-90)" x="0" y="0" font-family="Liberation Serif, Times New Roman, serif" font-weight="bold" font-size="14.5" text-anchor="middle">Power of 1064 nm laser (W)</text>
<path d="M60.92 346.86L65.98 345.94M76.16 343.81L83.94 341.99M100.52 335.28L120.48 331.72M130.62 329.43L138.58 327.27M148.57 324.39L157.03 321.81M166.89 318.54L174.61 315.76M184.59 312.93L192.41 311.27M202.64 309.42L211.56 308.08M221.35 304.96L227.95 301.64M237.40 297.31L248.10 292.89M257.04 287.75L266.66 280.45M275.13 274.42L284.77 267.98M294.08 263.61L301.82 261.29M310.64 256.30L321.06 246.80M328.47 239.52L339.33 227.98M346.82 220.79L356.68 212.21M363.33 204.38L375.97 183.92M382.04 175.52L393.16 162.28M400.54 155.03L410.36 147.07M416.84 139.21L429.66 115.09M433.76 105.57L447.74 64.23M451.92 54.75L456.28 46.85M461.80 38.06L463.80 35.24M471.63 29.07L479.47 25.93" fill="none" stroke="#ff0000" stroke-width="2"/>
<rect x="51.80" y="343.80" width="8" height="8" fill="#ff0000"/>
<rect x="67.10" y="341.00" width="8" height="8" fill="#ff0000"/>
<rect x="85.00" y="336.80" width="8" height="8" fill="#ff0000"/>
<rect x="91.40" y="332.20" width="8" height="8" fill="#ff0000"/>
<rect x="121.60" y="326.80" width="8" height="8" fill="#ff0000"/>
<rect x="139.60" y="321.90" width="8" height="8" fill="#ff0000"/>
<rect x="158.00" y="316.30" width="8" height="8" fill="#ff0000"/>
<rect x="175.50" y="310.00" width="8" height="8" fill="#ff0000"/>
<rect x="193.50" y="306.20" width="8" height="8" fill="#ff0000"/>
<rect x="212.70" y="303.30" width="8" height="8" fill="#ff0000"/>
<rect x="228.60" y="295.30" width="8" height="8" fill="#ff0000"/>
<rect x="248.90" y="286.90" width="8" height="8" fill="#ff0000"/>
<rect x="266.80" y="273.30" width="8" height="8" fill="#ff0000"/>
<rect x="285.10" y="261.10" width="8" height="8" fill="#ff0000"/>
<rect x="302.80" y="255.80" width="8" height="8" fill="#ff0000"/>
<rect x="320.90" y="239.30" width="8" height="8" fill="#ff0000"/>
<rect x="338.90" y="220.20" width="8" height="8" fill="#ff0000"/>
<rect x="356.60" y="204.80" width="8" height="8" fill="#ff0000"/>
<rect x="374.70" y="175.50" width="8" height="8" fill="#ff0000"/>
<rect x="392.50" y="154.30" width="8" height="8" fill="#ff0000"/>
<rect x="410.40" y="139.80" width="8" height="8" fill="#ff0000"/>
<rect x="428.10" y="106.50" width="8" height="8" fill="#ff0000"/>
<rect x="445.40" y="55.30" width="8" height="8" fill="#ff0000"/>
<rect x="454.80" y="38.30" width="8" height="8" fill="#ff0000"/>
<rect x="462.80" y="27.00" width="8" height="8" fill="#ff0000"/>
<rect x="480.30" y="20.00" width="8" height="8" fill="#ff0000"/>
<path d="M61.10 348.00L65.80 348.00M76.40 348.00L83.70 348.00M100.70 348.00L120.30 348.00M130.90 348.00L138.30 348.00M148.90 348.00L156.70 348.00M167.30 348.00L174.20 348.00M184.80 348.00L192.20 348.00M202.80 347.89L211.40 347.71M222.00 347.57L227.30 347.53M237.90 347.45L247.60 347.35M258.20 347.21L265.50 347.09M276.09 346.77L283.81 346.43M294.40 346.20L301.50 346.20M312.07 345.68L319.63 344.92M330.18 343.99L337.62 343.41M348.12 342.06L355.38 340.74M365.69 338.31L373.61 335.99M383.34 331.94L391.86 327.26M399.17 320.12L411.73 298.58M415.88 288.91L430.62 238.09M432.99 227.78L448.51 137.22M450.43 126.80L457.77 89.90M459.84 79.50L465.76 49.80M470.40 40.71L480.70 29.59" fill="none" stroke="#5c5cff" stroke-width="1.9"/>
<circle cx="55.8" cy="348" r="4.15" fill="#5c5cff"/>
<circle cx="71.1" cy="348" r="4.15" fill="#5c5cff"/>
<circle cx="89" cy="348" r="4.15" fill="#5c5cff"/>
<circle cx="95.4" cy="348" r="4.15" fill="#5c5cff"/>
<circle cx="125.6" cy="348" r="4.15" fill="#5c5cff"/>
<circle cx="143.6" cy="348" r="4.15" fill="#5c5cff"/>
<circle cx="162" cy="348" r="4.15" fill="#5c5cff"/>
<circle cx="179.5" cy="348" r="4.15" fill="#5c5cff"/>
<circle cx="197.5" cy="348" r="4.15" fill="#5c5cff"/>
<circle cx="216.7" cy="347.6" r="4.15" fill="#5c5cff"/>
<circle cx="232.6" cy="347.5" r="4.15" fill="#5c5cff"/>
<circle cx="252.9" cy="347.3" r="4.15" fill="#5c5cff"/>
<circle cx="270.8" cy="347" r="4.15" fill="#5c5cff"/>
<circle cx="289.1" cy="346.2" r="4.15" fill="#5c5cff"/>
<circle cx="306.8" cy="346.2" r="4.15" fill="#5c5cff"/>
<circle cx="324.9" cy="344.4" r="4.15" fill="#5c5cff"/>
<circle cx="342.9" cy="343" r="4.15" fill="#5c5cff"/>
<circle cx="360.6" cy="339.8" r="4.15" fill="#5c5cff"/>
<circle cx="378.7" cy="334.5" r="4.15" fill="#5c5cff"/>
<circle cx="396.5" cy="324.7" r="4.15" fill="#5c5cff"/>
<circle cx="414.4" cy="294" r="4.15" fill="#5c5cff"/>
<circle cx="432.1" cy="233" r="4.15" fill="#5c5cff"/>
<circle cx="449.4" cy="132" r="4.15" fill="#5c5cff"/>
<circle cx="458.8" cy="84.7" r="4.15" fill="#5c5cff"/>
<circle cx="466.8" cy="44.6" r="4.15" fill="#5c5cff"/>
<circle cx="484.3" cy="25.7" r="4.15" fill="#5c5cff"/>
<rect x="50.75" y="14.25" width="445.35" height="337.20" fill="none" stroke="#000" stroke-width="1.5"/>
<path d="M55.80 351.45v-5.8 M85.16 351.45v-3.2 M114.53 351.45v-5.8 M143.89 351.45v-3.2 M173.26 351.45v-5.8 M202.62 351.45v-3.2 M231.99 351.45v-5.8 M261.36 351.45v-3.2 M290.72 351.45v-5.8 M320.09 351.45v-3.2 M349.45 351.45v-5.8 M378.81 351.45v-3.2 M408.18 351.45v-5.8 M437.55 351.45v-3.2 M466.91 351.45v-5.8 M496.28 351.45v-3.2 M50.75 347.50h5.8 M50.75 315.46h3.2 M50.75 283.42h5.8 M50.75 251.38h3.2 M50.75 219.34h5.8 M50.75 187.30h3.2 M50.75 155.26h5.8 M50.75 123.22h3.2 M50.75 91.18h5.8 M50.75 59.14h3.2 M50.75 27.10h5.8 M496.1 348.10h-6 M496.1 322.82h-3.2 M496.1 297.53h-6 M496.1 272.25h-3.2 M496.1 246.96h-6 M496.1 221.68h-3.2 M496.1 196.40h-6 M496.1 171.11h-3.2 M496.1 145.83h-6 M496.1 120.54h-3.2 M496.1 95.26h-6 M496.1 69.98h-3.2 M496.1 44.69h-6 M496.1 19.41h-3.2" stroke="#000" stroke-width="1.4" fill="none"/>
<text x="55.80" y="370" font-family="Liberation Serif, Times New Roman, serif" font-weight="bold" font-size="15.5" text-anchor="middle">40</text>
<text x="114.53" y="370" font-family="Liberation Serif, Times New Roman, serif" font-weight="bold" font-size="15.5" text-anchor="middle">50</text>
<text x="173.26" y="370" font-family="Liberation Serif, Times New Roman, serif" font-weight="bold" font-size="15.5" text-anchor="middle">60</text>
<text x="231.99" y="370" font-family="Liberation Serif, Times New Roman, serif" font-weight="bold" font-size="15.5" text-anchor="middle">70</text>
<text x="290.72" y="370" font-family="Liberation Serif, Times New Roman, serif" font-weight="bold" font-size="15.5" text-anchor="middle">80</text>
<text x="349.45" y="370" font-family="Liberation Serif, Times New Roman, serif" font-weight="bold" font-size="15.5" text-anchor="middle">90</text>
<text x="408.18" y="370" font-family="Liberation Serif, Times New Roman, serif" font-weight="bold" font-size="15.5" text-anchor="middle">100</text>
<text x="466.91" y="370" font-family="Liberation Serif, Times New Roman, serif" font-weight="bold" font-size="15.5" text-anchor="middle">110</text>
<text x="43.9" y="352.70" font-family="Liberation Serif, Times New Roman, serif" font-weight="bold" font-size="15.5" text-anchor="end">0</text>
<text x="43.9" y="288.62" font-family="Liberation Serif, Times New Roman, serif" font-weight="bold" font-size="15.5" text-anchor="end">10</text>
<text x="43.9" y="224.54" font-family="Liberation Serif, Times New Roman, serif" font-weight="bold" font-size="15.5" text-anchor="end">20</text>
<text x="43.9" y="160.46" font-family="Liberation Serif, Times New Roman, serif" font-weight="bold" font-size="15.5" text-anchor="end">30</text>
<text x="43.9" y="96.38" font-family="Liberation Serif, Times New Roman, serif" font-weight="bold" font-size="15.5" text-anchor="end">40</text>
<text x="43.9" y="32.30" font-family="Liberation Serif, Times New Roman, serif" font-weight="bold" font-size="15.5" text-anchor="end">50</text>
<text x="502.4" y="352.50" font-family="Liberation Serif, Times New Roman, serif" font-weight="bold" font-size="15.5">0.0</text>
<text x="502.4" y="301.93" font-family="Liberation Serif, Times New Roman, serif" font-weight="bold" font-size="15.5">0.3</text>
<text x="502.4" y="251.36" font-family="Liberation Serif, Times New Roman, serif" font-weight="bold" font-size="15.5">0.6</text>
<text x="502.4" y="200.80" font-family="Liberation Serif, Times New Roman, serif" font-weight="bold" font-size="15.5">0.9</text>
<text x="502.4" y="150.23" font-family="Liberation Serif, Times New Roman, serif" font-weight="bold" font-size="15.5">1.2</text>
<text x="502.4" y="99.66" font-family="Liberation Serif, Times New Roman, serif" font-weight="bold" font-size="15.5">1.5</text>
<text x="502.4" y="49.09" font-family="Liberation Serif, Times New Roman, serif" font-weight="bold" font-size="15.5">1.8</text>
<text x="307.8" y="385.7" font-family="Liberation Serif, Times New Roman, serif" font-weight="bold" font-size="20.7" text-anchor="middle">Incident pump power (W)</text>
<text transform="translate(23.9 177.8) rotate(-90)" font-family="Liberation Serif, Times New Roman, serif" font-weight="bold" font-size="21.2" text-anchor="middle">Power of 1064 nm laser (W)</text>
<text transform="translate(540.1 179.3) rotate(-90)" font-family="Liberation Serif, Times New Roman, serif" font-weight="bold" font-size="21.2" text-anchor="middle">Power of 532 nm laser (W)</text>
<path d="M403.5 60.1 L445 59.5" stroke="#ff0000" stroke-width="1.7"/>
<path d="M393.5 60.2 L405.6 56.1 L403 60.1 L405.6 64.4 Z" fill="#ff0000"/>
<path d="M421.5 294.2 L451 294.2" stroke="#5c5cff" stroke-width="1.8"/>
<path d="M461 294.1 L449 289.8 L451.8 294.2 L449 298.5 Z" fill="#5c5cff"/>
<text x="370.9" y="65.4" font-family="Liberation Serif, Times New Roman, serif" font-weight="bold" font-size="16.3" letter-spacing="0.4">(a)</text>
<text x="463.2" y="298.3" font-family="Liberation Serif, Times New Roman, serif" font-weight="bold" font-size="16.5" letter-spacing="0.2">(b)</text>
<path d="M74 30.5h12.2M97.7 30.5h11" stroke="#ff0000" stroke-width="1.4"/>
<rect x="88.3" y="27" width="7" height="7" fill="#ff0000"/>
<path d="M74 49.3h12.2M97.7 49.3h11" stroke="#5c5cff" stroke-width="1.4"/>
<circle cx="91.9" cy="49.3" r="3.7" fill="#5c5cff"/>
<text x="116" y="35.5" font-family="Liberation Serif, Times New Roman, serif" font-weight="bold" font-size="15.4" xml:space="preserve">(a)  1064 nm laser</text>
<text x="116" y="55.3" font-family="Liberation Serif, Times New Roman, serif" font-weight="bold" font-size="15.4" xml:space="preserve">(b)  532 nm laser</text>
</svg>
</body></html>
